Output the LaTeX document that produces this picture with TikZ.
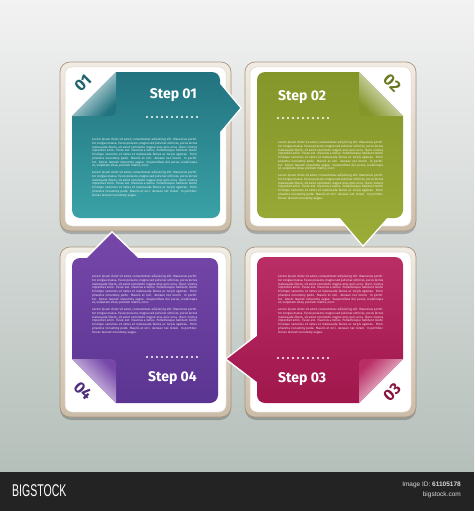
\documentclass[tikz,border=0pt]{standalone}
\usepackage{fontspec}
\setmainfont{Fira Sans}
\newfontfamily\footfont{Liberation Sans}
\usetikzlibrary{positioning}

\definecolor{tealA}{HTML}{22737F}
\definecolor{tealB}{HTML}{3AA2A6}
\definecolor{oliveA}{HTML}{84952A}
\definecolor{oliveB}{HTML}{9CAC38}
\definecolor{plumA}{HTML}{7647A9}
\definecolor{plumB}{HTML}{5B3592}
\definecolor{roseA}{HTML}{BA2E66}
\definecolor{roseB}{HTML}{A0174C}
\definecolor{rimtop}{HTML}{F1ECE4}
\definecolor{rimbot}{HTML}{CBBCA8}
\definecolor{rimline}{HTML}{A8967F}
\definecolor{bgtop}{HTML}{F2F2F2}
\definecolor{bgbot}{HTML}{B5BFBA}
\definecolor{footbar}{HTML}{232323}

\newcommand{\fillertext}{Lorem ipsum dolor sit amet, consectetuer adipiscing elit. Maecenas porttitor congue massa. Fusce posuere, magna sed pulvinar ultricies, purus lectus malesuada libero, sit amet commodo magna eros quis urna. Nunc viverra imperdiet enim. Fusce est. Vivamus a tellus. Pellentesque habitant morbi tristique senectus et netus et malesuada fames ac turpis egestas. Proin pharetra nonummy pede. Mauris et orci. Aenean nec lorem. In porttitor. Donec laoreet nonummy augue. Suspendisse dui purus, scelerisque at, vulputate vitae, pretium mattis, nunc.\par\vspace{3pt}Lorem ipsum dolor sit amet, consectetuer adipiscing elit. Maecenas porttitor congue massa. Fusce posuere, magna sed pulvinar ultricies, purus lectus malesuada libero, sit amet commodo magna eros quis urna. Nunc viverra imperdiet enim. Fusce est. Vivamus a tellus. Pellentesque habitant morbi tristique senectus et netus et malesuada fames ac turpis egestas. Proin pharetra nonummy pede. Mauris et orci. Aenean nec lorem. In porttitor. Donec laoreet nonummy augue.}

\tikzset{
    %Card and panel looks
    cardshadow/.style={rounded corners=11pt, fill=black, opacity=0.22},
    cardrim/.style={rounded corners=10pt, top color=rimtop, bottom color=rimbot,
      draw=rimline, line width=0.7pt},
    cardface/.style={rounded corners=7pt, fill=white, draw=rimbot!60!white, line width=0.5pt},
    pointer/.style={draw=white, line width=3pt, line join=miter},
    cornercut/.style={fill=white},
    steplabel/.style={text=white, inner sep=0pt, font=\bfseries\fontsize{14}{14}\selectfont},
    numlabel/.style={inner sep=0pt, font=\bfseries\fontsize{16}{16}\selectfont},
    dotrow/.style={draw=white, line width=2.4pt, line cap=round, dash pattern=on 0pt off 5pt},
    filler/.style={text=white, opacity=0.9, inner sep=0pt, text width=105pt,
      align=justify, font=\fontsize{3.1}{3.75}\selectfont},
}

\begin{document}
\begin{tikzpicture}[x=1pt, y=-1pt]
    \useasboundingbox (0,0) rectangle (474,511);
    % backdrop and footer
    \shade[top color=bgtop, bottom color=bgbot] (0,0) rectangle (474,472);
    \fill[footbar] (0,472) rectangle (474,511);

    % cards
    \fill[cardshadow] (60,64) rectangle (231,234);
    \path[cardrim] (60,62) rectangle (231,231);
    \path[cardface] (65,67) rectangle (226,226);
    \fill[cardshadow] (245,64) rectangle (416,234);
    \path[cardrim] (245,62) rectangle (416,231);
    \path[cardface] (250,67) rectangle (411,226);
    \fill[cardshadow] (60,249) rectangle (231,420);
    \path[cardrim] (60,247) rectangle (231,417);
    \path[cardface] (65,252) rectangle (226,412);
    \fill[cardshadow] (245,249) rectangle (416,420);
    \path[cardrim] (245,247) rectangle (416,417);
    \path[cardface] (250,252) rectangle (411,412);

    % step 01
    \draw[pointer] (220,84) -- (240,108) -- (220,132) -- cycle;
    \path[top color=tealA, bottom color=tealB]
      {[rounded corners=8pt] (72,72) rectangle (220,218)}
      (220,84) -- (240,108) -- (220,132) -- cycle;
    \fill[cornercut] (68,120) -- (68,68) -- (120,68) -- cycle;
    \shade[top color=white, bottom color=tealA, shading angle=45]
      (72,116) -- (116,72) -- (116,106) .. controls (116,116) .. (106,116) -- cycle;
    \node (num1) [numlabel, text=tealA!85!black, rotate=45] at (83,83) {01};
    \coordinate (dots1a) at (147,117);
    \coordinate (dots1b) at (197,117);
    \draw[dotrow] (dots1a) -- (dots1b);
    \node (step1) [steplabel, above left=15pt and 0pt of dots1b] {Step 01};
    \node (text1) [filler, anchor=north west] at (92,138) {\fillertext};

    % step 02
    \draw[pointer] (340,218) -- (363,245) -- (387,218) -- cycle;
    \path[top color=oliveA, bottom color=oliveB]
      {[rounded corners=8pt] (257,72) rectangle (403,218)}
      (340,218) -- (363,245) -- (387,218) -- cycle;
    \fill[cornercut] (355,68) -- (407,68) -- (407,120) -- cycle;
    \shade[top color=white, bottom color=oliveA, shading angle=-45]
      (359,72) -- (403,116) -- (369,116) .. controls (359,116) .. (359,106) -- cycle;
    \node (num2) [numlabel, text=oliveA!80!black, rotate=-45] at (392,83) {02};
    \coordinate (dots2a) at (278,118);
    \coordinate (dots2b) at (328,118);
    \draw[dotrow] (dots2a) -- (dots2b);
    \node (step2) [steplabel, above right=14pt and 0pt of dots2a] {Step 02};
    \node (text2) [filler, anchor=north west] at (278,141) {\fillertext};

    % step 04
    \draw[pointer] (87,258) -- (112,233) -- (138,258) -- cycle;
    \path[top color=plumA, bottom color=plumB]
      {[rounded corners=8pt] (72,258) rectangle (218,403)}
      (87,258) -- (112,233) -- (138,258) -- cycle;
    \fill[cornercut] (68,355) -- (68,407) -- (120,407) -- cycle;
    \shade[top color=white, bottom color=plumA, shading angle=135]
      (72,359) -- (116,403) -- (116,369) .. controls (116,359) .. (106,359) -- cycle;
    \node (num4) [numlabel, text=plumB!85!black, rotate=-45] at (83,391) {04};
    \coordinate (dots4a) at (147,357);
    \coordinate (dots4b) at (197,357);
    \draw[dotrow] (dots4a) -- (dots4b);
    \node (step4) [steplabel, below left=14pt and 0pt of dots4b] {Step 04};
    \node (text4) [filler, anchor=north west] at (92,275) {\fillertext};

    % step 03
    \draw[pointer] (257,336) -- (227,359) -- (257,382) -- cycle;
    \path[top color=roseA, bottom color=roseB]
      {[rounded corners=8pt] (257,257) rectangle (403,403)}
      (257,336) -- (227,359) -- (257,382) -- cycle;
    \fill[cornercut] (355,407) -- (407,407) -- (407,355) -- cycle;
    \shade[top color=white, bottom color=roseA, shading angle=225]
      (403,359) -- (359,403) -- (359,369) .. controls (359,359) .. (369,359) -- cycle;
    \node (num3) [numlabel, text=roseB!85!black, rotate=45] at (392,392) {03};
    \coordinate (dots3a) at (278,358);
    \coordinate (dots3b) at (328,358);
    \draw[dotrow] (dots3a) -- (dots3b);
    \node (step3) [steplabel, below right=14pt and 0pt of dots3a] {Step 03};
    \node (text3) [filler, anchor=north west] at (278,275) {\fillertext};

    % footer
    \node (brand) [anchor=west, text=white, inner sep=0pt, xscale=0.62,
          font=\footfont\fontsize{17}{17}\selectfont] at (12,491) {BIGSTOCK};
    \node (imgid) [anchor=east, text=white!85!black, inner sep=0pt,
          font=\footfont\fontsize{6.5}{6.5}\selectfont] at (461,485)
          {Image ID: \textbf{61105178}};
    \node (site) [below=3pt of imgid.south east, anchor=north east, text=white!85!black,
          inner sep=0pt, font=\footfont\fontsize{6.5}{6.5}\selectfont] {bigstock.com};
\end{tikzpicture}
\end{document}
